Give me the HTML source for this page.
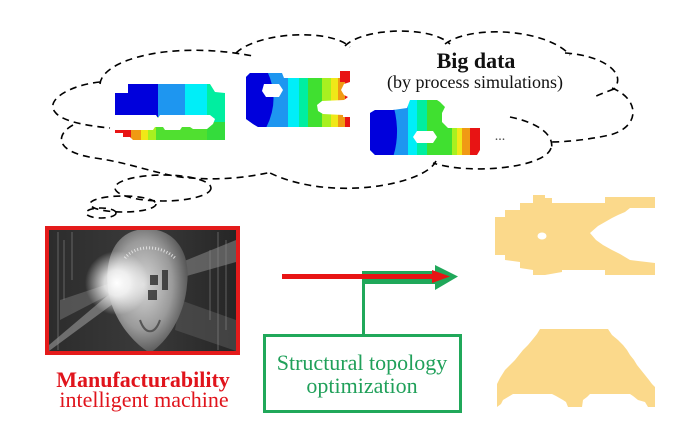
<!DOCTYPE html>
<html>
<head>
<meta charset="utf-8">
<style>
html,body{margin:0;padding:0;background:#fff;}
svg{display:block;}
text{font-family:"Liberation Serif",serif;}
</style>
</head>
<body>
<svg width="700" height="448" viewBox="0 0 700 448" xmlns="http://www.w3.org/2000/svg">
<defs>
  <clipPath id="cA"><path d="M115,93 L128,93 L128,84 L210,84 L215,92 L225,93 L225,140 L133,140 L130,137 L123,137 L123,133 L115,133 L115,130 L153,130 L155,127 L163,127 L165,130 L180,130 L182,127 L190,127 L193,129 L207,129 L213,124 L215,119 L210,115 L160,115 L158,118 L156,115 L115,115 Z"/></clipPath>
  <clipPath id="cB"><path d="M250,73 L282,73 L284,78 L340,78 L340,71 L350,71 L350,82 L344,84 L341,90 L344,95 L348,97 L344,100 L322,101 L317,105 L318,111 L323,114 L343,115 L343,117 L350,117 L350,127 L258,127 L253,124 L246,119 L246,77 Z"/></clipPath>
  <clipPath id="cC"><path d="M370,113 L375,110 L393,110 L407,108 L410,100 L437,100 L440,102 L445,107 L442,113 L442,122 L448,128 L480,128 L480,150 L477,155 L375,155 L370,150 Z"/></clipPath>
  <clipPath id="cImg"><rect x="49" y="230" width="187" height="121"/></clipPath>
  <radialGradient id="gHead" cx="0.45" cy="0.45" r="0.6">
    <stop offset="0" stop-color="#d8d8d8"/>
    <stop offset="0.6" stop-color="#9a9a9a"/>
    <stop offset="1" stop-color="#4a4a4a"/>
  </radialGradient>
  <radialGradient id="gGlow" cx="0.5" cy="0.5" r="0.5">
    <stop offset="0" stop-color="#ffffff" stop-opacity="1"/>
    <stop offset="0.4" stop-color="#ffffff" stop-opacity="0.8"/>
    <stop offset="1" stop-color="#ffffff" stop-opacity="0"/>
  </radialGradient>
  <linearGradient id="gBg" x1="0" y1="0" x2="1" y2="0">
    <stop offset="0" stop-color="#2c2c2c"/>
    <stop offset="0.5" stop-color="#3a3a3a"/>
    <stop offset="1" stop-color="#262626"/>
  </linearGradient>
</defs>

<!-- cloud -->
<g fill="none" stroke="#000" stroke-width="1.6" stroke-dasharray="7 5">
  <path d="M100,84 C102,60 170,40 253,56"/>
  <path d="M236,53 C258,32 330,28 350,47"/>
  <path d="M345,46 C362,28 430,25 450,44"/>
  <path d="M445,44 C470,25 545,28 570,55"/>
  <path d="M565,53 C600,55 628,72 614,89"/>
  <path d="M614,89 C606,92 598,95 592,98"/>
  <path d="M612,88 C642,100 640,130 605,136 C585,140 565,142 550,142"/>
  <path d="M510,117 C535,122 556,134 551,150"/>
  <path d="M551,148 C545,168 470,175 433,163"/>
  <path d="M436,161 C425,185 330,202 270,173"/>
  <path d="M100,82 C70,85 45,100 55,112 C62,122 90,126 110,128"/>
  <path d="M73,125 C55,135 55,152 95,158 C130,163 150,172 180,177 C215,181 245,178 272,172"/>
  <ellipse cx="163" cy="188" rx="48" ry="13"/>
  <ellipse cx="123" cy="204" rx="33" ry="8"/>
  <ellipse cx="101" cy="213" rx="15" ry="5"/>
</g>

<!-- shape A -->
<g clip-path="url(#cA)">
  <rect x="110" y="80" width="48" height="37" fill="#0000dc"/>
  <rect x="158" y="80" width="27" height="37" fill="#1e96f0"/>
  <rect x="185" y="80" width="22" height="37" fill="#00eef8"/>
  <rect x="207" y="80" width="23" height="42" fill="#00eea0"/>
  <rect x="110" y="117" width="21" height="28" fill="#e81414"/>
  <rect x="131" y="117" width="10" height="28" fill="#f09a14"/>
  <rect x="141" y="117" width="7" height="28" fill="#f0e818"/>
  <rect x="148" y="117" width="8" height="28" fill="#a8f020"/>
  <rect x="156" y="117" width="51" height="28" fill="#50e030"/>
  <rect x="207" y="122" width="23" height="23" fill="#34dc3c"/>
</g>

<!-- shape B -->
<g clip-path="url(#cB)">
  <rect x="240" y="65" width="48" height="70" fill="#1e96f0"/>
  <rect x="288" y="65" width="11" height="70" fill="#00eef8"/>
  <rect x="299" y="65" width="9" height="70" fill="#00eea0"/>
  <rect x="308" y="65" width="14" height="70" fill="#40e030"/>
  <rect x="322" y="65" width="9" height="70" fill="#a8f020"/>
  <rect x="331" y="65" width="7" height="70" fill="#f0e818"/>
  <rect x="338" y="65" width="7" height="70" fill="#f09a14"/>
  <rect x="345" y="65" width="10" height="70" fill="#e81414"/>
  <rect x="340" y="65" width="12" height="17" fill="#e81414"/>
  <path d="M240,65 L264,65 Q284,100 262,135 L240,135 Z" fill="#0000dc"/>
</g>
<path d="M264,84 L279,84 L283,90 L279,97 L266,97 L262,91 Z" fill="#fff"/>

<!-- shape C -->
<g clip-path="url(#cC)">
  <rect x="365" y="95" width="43" height="65" fill="#1e96f0"/>
  <rect x="408" y="95" width="9" height="65" fill="#00eef8"/>
  <rect x="417" y="95" width="10" height="65" fill="#00eea0"/>
  <rect x="427" y="95" width="25" height="65" fill="#40e030"/>
  <rect x="452" y="95" width="5" height="65" fill="#a8f020"/>
  <rect x="457" y="95" width="5" height="65" fill="#f0e818"/>
  <rect x="462" y="95" width="8" height="65" fill="#f09a14"/>
  <rect x="470" y="95" width="15" height="65" fill="#e81414"/>
  <path d="M365,95 L390,95 Q403,130 392,160 L365,160 Z" fill="#0000dc"/>
</g>
<path d="M417,131 L433,131 L437,137 L433,143 L417,143 L413,137 Z" fill="#fff"/>
<text x="500" y="140" font-size="14" text-anchor="middle" fill="#444">...</text>

<!-- Big data text -->
<text x="476" y="68" font-size="22" font-weight="bold" text-anchor="middle" fill="#111">Big data</text>
<text x="475" y="88" font-size="18" text-anchor="middle" fill="#111">(by process simulations)</text>

<!-- machine image -->
<g clip-path="url(#cImg)">
  <rect x="49" y="230" width="187" height="121" fill="url(#gBg)"/>
  <polygon points="49,345 120,285 125,295 49,351" fill="#9a9a9a" opacity="0.6"/>
  <polygon points="236,240 150,275 155,285 236,262" fill="#8a8a8a" opacity="0.55"/>
  <polygon points="60,300 120,280 118,290 60,320" fill="#777" opacity="0.5"/>
  <polygon points="180,300 236,320 236,351 175,330" fill="#555" opacity="0.6"/>
  <g stroke="#888" stroke-width="1" opacity="0.6">
    <line x1="58" y1="232" x2="58" y2="350"/>
    <line x1="64" y1="240" x2="64" y2="300"/>
    <line x1="72" y1="232" x2="72" y2="280"/>
    <line x1="218" y1="232" x2="218" y2="350"/>
    <line x1="226" y1="240" x2="226" y2="330"/>
    <line x1="210" y1="250" x2="210" y2="320"/>
  </g>
  <path d="M147,229 C177,229 191,255 187,285 C185,312 170,340 150,353 C130,341 112,316 108,290 C104,255 117,229 147,229 Z" fill="url(#gHead)"/>
  <path d="M125,258 C135,245 160,244 175,258" fill="none" stroke="#eee" stroke-width="3" stroke-dasharray="1 2" opacity="0.8"/>
  <g fill="#222" opacity="0.75">
    <rect x="150" y="275" width="8" height="10"/>
    <rect x="148" y="290" width="9" height="10"/>
    <rect x="162" y="270" width="6" height="20"/>
  </g>
  <circle cx="117" cy="283" r="32" fill="url(#gGlow)"/>
  <path d="M140,320 C145,335 155,335 160,320" fill="none" stroke="#555" stroke-width="2"/>
</g>
<rect x="47" y="228" width="191" height="125" fill="none" stroke="#e41b1b" stroke-width="4"/>

<text x="143" y="387" font-size="22" font-weight="bold" text-anchor="middle" fill="#e0141c">Manufacturability</text>
<text x="144" y="407" font-size="22" text-anchor="middle" fill="#e0141c">intelligent machine</text>

<!-- arrows -->
<rect x="362" y="271" width="74" height="13" fill="#20a85a"/>
<polygon points="435,265 458,276.5 435,290" fill="#20a85a"/>
<rect x="362" y="271" width="3" height="64" fill="#20a85a"/>
<rect x="282" y="274" width="151" height="5" fill="#e81414"/>
<polygon points="432,270 450,276.5 432,283" fill="#e81414"/>

<!-- green box -->
<rect x="264.5" y="335.5" width="196" height="76" fill="#fff" stroke="#20a85a" stroke-width="3"/>
<text x="362" y="370" font-size="22" text-anchor="middle" fill="#20a05a">Structural topology</text>
<text x="362" y="393" font-size="22" text-anchor="middle" fill="#20a05a">optimization</text>

<!-- yellow shapes -->
<path d="M495,217 L505,217 L505,210 L520,210 L520,203 L533,203 L533,195 L545,195 L545,198 L552,198 L552,203 L605,203 L605,197 L655,197 L655,208 L630,208 L625,212 L618,215 L612,218 L605,222 L598,226 L590,233 L596,240 L603,245 L612,250 L620,254 L630,260 L655,263 L655,275 L605,275 L605,270 L562,270 L562,272 L545,275 L533,275 L533,270 L520,268 L520,262 L505,260 L505,255 L495,255 Z" fill="#fbd98b"/>
<ellipse cx="542" cy="236" rx="4.5" ry="3.5" fill="#fff"/>
<path d="M540,329 L608,329 L612,335 L618,340 L623,345 L627,350 L630,355 L634,360 L637,365 L641,370 L645,375 L649,380 L652,384 L655,387 L655,407 L648,407 L645,402 L638,400 L633,396 L630,394 L590,394 L587,397 L583,400 L582,407 L568,407 L566,402 L563,400 L556,396 L552,394 L513,394 L508,397 L503,400 L501,404 L497,407 L497,384 L500,378 L505,370 L510,365 L515,360 L519,355 L523,350 L528,345 L533,339 L537,334 Z" fill="#fbd98b"/>
</svg>
</body>
</html>
